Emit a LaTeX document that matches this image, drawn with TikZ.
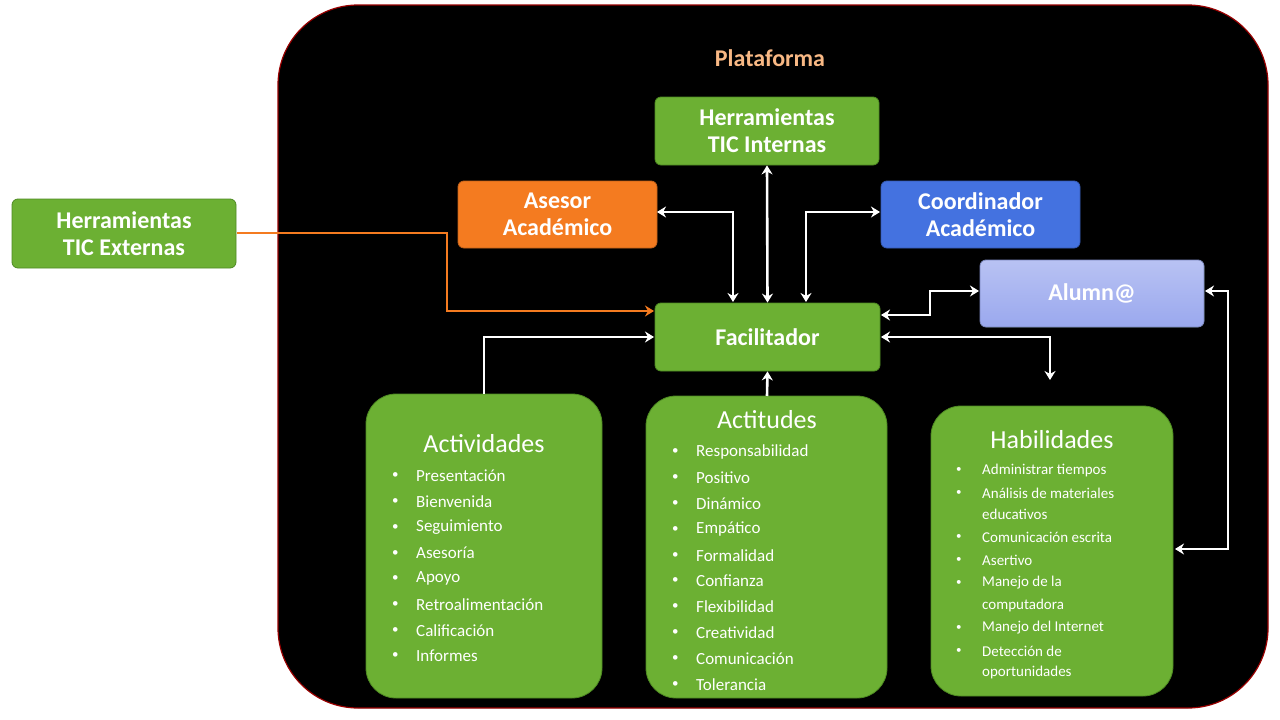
\documentclass[tikz,border=0pt]{standalone}
\usepackage{fontspec}
\setmainfont{Carlito}
\usetikzlibrary{arrows.meta}
\definecolor{gr}{HTML}{6CB033}
\definecolor{grd}{HTML}{4E8A22}
\definecolor{org}{HTML}{F47B20}
\definecolor{blu}{HTML}{4472E0}
\definecolor{alu}{HTML}{9AA8EE}
\definecolor{plat}{HTML}{F8B884}
\begin{document}
\begin{tikzpicture}[x=1pt,y=-1pt,
  box/.style={draw=grd,line width=0.8pt,rounded corners=6pt,fill=gr,text=white,font=\bfseries\fontsize{24}{27}\selectfont,align=center,inner sep=0pt},
  big/.style={draw=grd,line width=0.8pt,rounded corners=30pt,fill=gr},
  ar/.style={white,line width=2.6pt,-{Stealth[length=9pt,width=11pt]}},
  dar/.style={white,line width=2.6pt,{Stealth[length=9pt,width=11pt]}-{Stealth[length=9pt,width=11pt]}},
  it/.style={anchor=west,text=white,inner sep=0pt}]
\useasboundingbox (0,0) rectangle (1280,720);
\fill[white] (0,0) rectangle (1280,720);
\draw[fill=black,draw=red!60!black,line width=1.2pt,rounded corners=80pt] (278,5) rectangle (1268,708);
\node[font=\bfseries\fontsize{24}{27}\selectfont,text=plat] (plat) at (770,58) {Plataforma};
\node[box,minimum width=224pt,minimum height=68pt] (tint) at (767,131) {Herramientas\\TIC Internas};
\node[box,draw=org!80!black,fill=org,minimum width=199pt,minimum height=67pt] (ase) at (557.5,214.5) {Asesor\\Académico};
\node[box,draw=blu!80!black,fill=blu,minimum width=199pt,minimum height=67pt] (coo) at (980.5,214.5) {Coordinador\\Académico};
\node[box,draw=alu!80!black,top color=alu!70!white,bottom color=alu,minimum width=224pt,minimum height=67pt] (alu) at (1092,293.5) {Alumn@};
\node[box,minimum width=225pt,minimum height=68pt] (fac) at (767.5,337) {Facilitador};
\node[box,minimum width=224pt,minimum height=69pt] (ext) at (124,233.5) {Herramientas\\TIC Externas};
\draw[big] (366,394) rectangle (602,698);
\draw[big] (646,396) rectangle (887,698);
\draw[big] (931,406) rectangle (1173,696);
\coordinate (act) at (484,394);
\coordinate (acd) at (767,396);
\coordinate (hab) at (1050,380);
\node[text=white,font=\fontsize{26}{28}\selectfont] (t1) at (484,444) {Actividades};
\node[text=white,font=\fontsize{26}{28}\selectfont] (t2) at (767,420) {Actitudes};
\node[text=white,font=\fontsize{26}{28}\selectfont] (t3) at (1052,440) {Habilidades};
\foreach \t [count=\i] in {Presentación,Bienvenida,Seguimiento,Asesoría,Apoyo,Retroalimentación,Calificación,Informes}{
  \node[it,font=\fontsize{17}{19}\selectfont] (a\i) at (416,{476+25.7*(\i-1)}) {\t};
  \node[it,font=\fontsize{13}{15}\selectfont] (ab\i) at (392,{476+25.7*(\i-1)}) {•};}
\foreach \t [count=\i] in {Responsabilidad,Positivo,Dinámico,Empático,Formalidad,Confianza,Flexibilidad,Creatividad,Comunicación,Tolerancia}{
  \node[it,font=\fontsize{17}{19}\selectfont] (c\i) at (696,{452+25.8*(\i-1)}) {\t};
  \node[it,font=\fontsize{13}{15}\selectfont] (cb\i) at (672,{452+25.8*(\i-1)}) {•};}
\foreach \y in {470,493,537,560,583,628,651}
  \node[it,font=\fontsize{11}{13}\selectfont] at (956,\y) {•};
\foreach \y/\t in {470/Administrar tiempos,493/Análisis de materiales,514/educativos,537/Comunicación escrita,560/Asertivo,583/Manejo de la,605/computadora,628/Manejo del Internet,651/Detección de,672/oportunidades}
  \node[it,font=\fontsize{15}{17}\selectfont] at (982,\y) {\t};
% helper coordinates
\coordinate (ase1) at (657,212); \coordinate (ase2) at (733,212); \coordinate (ase3) at (733,302);
\coordinate (coo1) at (880,212); \coordinate (coo2) at (806,212); \coordinate (coo3) at (806,302);
\coordinate (al1) at (881,315); \coordinate (al2) at (930,315); \coordinate (al3) at (930,291); \coordinate (al4) at (979,291);
\coordinate (hb1) at (881,337); \coordinate (hb2) at (1050,337);
\coordinate (ah1) at (1205,291); \coordinate (ah2) at (1228,291); \coordinate (ah3) at (1228,549); \coordinate (ah4) at (1175,549);
\coordinate (ac1) at (484,337); \coordinate (fw) at (654,337);
\coordinate (ex1) at (237,233); \coordinate (ex2) at (447,233); \coordinate (ex3) at (447,311); \coordinate (ex4) at (654,311);
% connectors
\draw[dar] (ase1) -- (ase2) -- (ase3);
\draw[dar] (tint.south) -- (fac.north);
\draw[dar] (coo1) -- (coo2) -- (coo3);
\draw[dar] (al1) -- (al2) -- (al3) -- (al4);
\draw[dar] (hb1) -- (hb2) -- (hab);
\draw[dar] (ah1) -- (ah2) -- (ah3) -- (ah4);
\draw[ar] (act) -- (ac1) -- (fw);
\draw[ar] (acd) -- (fac.south);
\draw[org,line width=2.6pt,-{Stealth[length=9pt,width=11pt]}] (ex1) -- (ex2) -- (ex3) -- (ex4);
\end{tikzpicture}
\end{document}
